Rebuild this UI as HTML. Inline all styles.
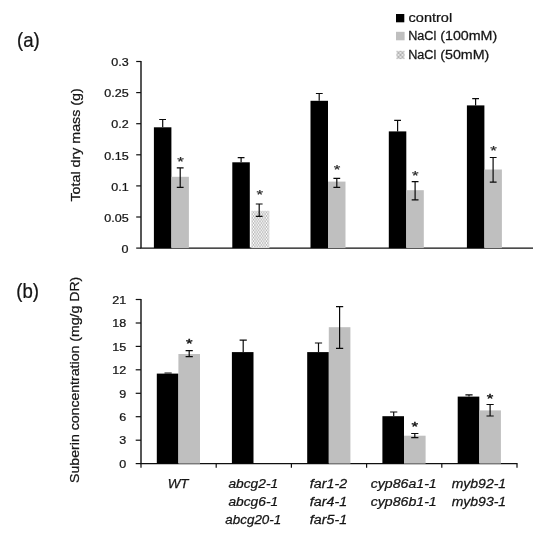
<!DOCTYPE html><html><head><meta charset="utf-8"><title>chart</title><style>html,body{margin:0;padding:0;background:#fff}svg{display:block}text{font-family:"Liberation Sans",sans-serif;fill:#151515;stroke:#151515;stroke-width:0.25px}</style></head><body>
<svg width="550" height="539" viewBox="0 0 550 539">
<defs><pattern id="chk" width="2.6" height="3.6" patternUnits="userSpaceOnUse"><rect width="2.6" height="3.6" fill="#a6a6a6"/><path d="M1.3 0.5L2.3 1.8L1.3 3.1L0.3 1.8ZM0 -1.3L1 0L0 1.3L-1 0ZM2.6 -1.3L3.6 0L2.6 1.3L1.6 0ZM0 2.3L1 3.6L0 4.9L-1 3.6ZM2.6 2.3L3.6 3.6L2.6 4.9L1.6 3.6Z" fill="#fff"/></pattern><pattern id="lg" x="396.5" y="50.8" width="4" height="4.15" patternUnits="userSpaceOnUse"><rect width="4" height="4.15" fill="#f4f4f4"/><path d="M0 0L4 4.15M4 0L0 4.15" stroke="#a8a8a8" stroke-width="1"/></pattern></defs>
<rect width="550" height="539" fill="#fff"/>
<path d="M141 60.9V248.1H533" stroke="#101010" stroke-width="1.4" fill="none"/>
<path d="M136.2 248.1H141" stroke="#101010" stroke-width="1.2"/>
<text transform="translate(128.60 252.80) scale(1.1 1)" font-size="11.4" text-anchor="end">0</text>
<path d="M136.2 217.0H141" stroke="#101010" stroke-width="1.2"/>
<text transform="translate(128.60 221.70) scale(1.1 1)" font-size="11.4" text-anchor="end">0.05</text>
<path d="M136.2 185.9H141" stroke="#101010" stroke-width="1.2"/>
<text transform="translate(128.60 190.60) scale(1.1 1)" font-size="11.4" text-anchor="end">0.1</text>
<path d="M136.2 154.8H141" stroke="#101010" stroke-width="1.2"/>
<text transform="translate(128.60 159.50) scale(1.1 1)" font-size="11.4" text-anchor="end">0.15</text>
<path d="M136.2 123.7H141" stroke="#101010" stroke-width="1.2"/>
<text transform="translate(128.60 128.40) scale(1.1 1)" font-size="11.4" text-anchor="end">0.2</text>
<path d="M136.2 92.6H141" stroke="#101010" stroke-width="1.2"/>
<text transform="translate(128.60 97.30) scale(1.1 1)" font-size="11.4" text-anchor="end">0.25</text>
<path d="M136.2 61.5H141" stroke="#101010" stroke-width="1.2"/>
<text transform="translate(128.60 66.20) scale(1.1 1)" font-size="11.4" text-anchor="end">0.3</text>
<rect x="153.9" y="127.3" width="17.5" height="120.8" fill="#000"/>
<rect x="171.4" y="176.8" width="17.5" height="71.3" fill="#bfbfbf"/>
<path d="M162.7 119.5V127.3M159.2 119.5h6.8" stroke="#0a0a0a" stroke-width="1.2" fill="none"/>
<path d="M180.2 167.9V187.4M176.8 167.9h6.8M176.8 187.4h6.8" stroke="#0a0a0a" stroke-width="1.2" fill="none"/>
<text transform="translate(180.45 165.50) scale(1.25 1)" font-size="13.5" text-anchor="middle" style="fill:#2a2a2a;stroke:#2a2a2a;stroke-width:0.2px">*</text>
<rect x="232.3" y="162.3" width="17.5" height="85.8" fill="#000"/>
<rect x="251.3" y="210.8" width="18.1" height="37.3" fill="url(#chk)"/>
<path d="M241.1 157.7V162.3M237.7 157.7h6.8" stroke="#0a0a0a" stroke-width="1.2" fill="none"/>
<path d="M259.2 204.0V216.4M255.8 204.0h6.8M255.8 216.4h6.8" stroke="#0a0a0a" stroke-width="1.2" fill="none"/>
<text transform="translate(259.75 199.20) scale(1.25 1)" font-size="13.5" text-anchor="middle" style="fill:#2a2a2a;stroke:#2a2a2a;stroke-width:0.2px">*</text>
<rect x="310.5" y="100.8" width="17.5" height="147.3" fill="#000"/>
<rect x="328.0" y="181.6" width="17.5" height="66.5" fill="#bfbfbf"/>
<path d="M319.2 93.5V100.8M315.9 93.5h6.8" stroke="#0a0a0a" stroke-width="1.2" fill="none"/>
<path d="M336.8 178.3V187.3M333.4 178.3h6.8M333.4 187.3h6.8" stroke="#0a0a0a" stroke-width="1.2" fill="none"/>
<text transform="translate(337.05 173.80) scale(1.25 1)" font-size="13.5" text-anchor="middle" style="fill:#2a2a2a;stroke:#2a2a2a;stroke-width:0.2px">*</text>
<rect x="388.8" y="131.4" width="17.5" height="116.7" fill="#000"/>
<rect x="406.3" y="190.2" width="17.5" height="57.9" fill="#bfbfbf"/>
<path d="M397.6 120.3V131.4M394.2 120.3h6.8" stroke="#0a0a0a" stroke-width="1.2" fill="none"/>
<path d="M415.1 181.7V199.8M411.7 181.7h6.8M411.7 199.8h6.8" stroke="#0a0a0a" stroke-width="1.2" fill="none"/>
<text transform="translate(415.35 179.50) scale(1.25 1)" font-size="13.5" text-anchor="middle" style="fill:#2a2a2a;stroke:#2a2a2a;stroke-width:0.2px">*</text>
<rect x="466.9" y="105.4" width="17.5" height="142.7" fill="#000"/>
<rect x="484.4" y="169.5" width="17.5" height="78.6" fill="#bfbfbf"/>
<path d="M475.6 98.7V105.4M472.2 98.7h6.8" stroke="#0a0a0a" stroke-width="1.2" fill="none"/>
<path d="M493.1 157.5V182.1M489.8 157.5h6.8M489.8 182.1h6.8" stroke="#0a0a0a" stroke-width="1.2" fill="none"/>
<text transform="translate(493.45 155.00) scale(1.25 1)" font-size="13.5" text-anchor="middle" style="fill:#2a2a2a;stroke:#2a2a2a;stroke-width:0.2px">*</text>
<text transform="translate(79.70 144.90) rotate(-90) scale(1.058 1)" font-size="13.5" text-anchor="middle">Total dry mass (g)</text>
<text transform="translate(17.00 46.50) scale(0.93 1)" font-size="20.0" text-anchor="start">(a)</text>
<rect x="396" y="14" width="8.3" height="8.3" fill="#000"/>
<rect x="396" y="31.8" width="8.6" height="8.5" fill="#bfbfbf"/>
<rect x="396.5" y="50.8" width="8" height="8.3" fill="url(#lg)"/>
<text transform="translate(408.60 21.90) scale(1.18 1)" font-size="12.3" text-anchor="start">control</text>
<text transform="translate(408.20 40.00) scale(1.03 1)" font-size="12.3" text-anchor="start">NaCl</text>
<text transform="translate(440.20 40.00) scale(1.16 1)" font-size="12.3" text-anchor="start">(100mM)</text>
<text transform="translate(408.20 58.50) scale(1.03 1)" font-size="12.3" text-anchor="start">NaCl</text>
<text transform="translate(440.20 58.50) scale(1.16 1)" font-size="12.3" text-anchor="start">(50mM)</text>
<path d="M141 298.9V463.6H517.5" stroke="#101010" stroke-width="1.4" fill="none"/>
<path d="M135.7 463.6H141" stroke="#101010" stroke-width="1.2"/>
<text transform="translate(126.30 467.90) scale(1.1 1)" font-size="11.4" text-anchor="end">0</text>
<path d="M135.7 440.2H141" stroke="#101010" stroke-width="1.2"/>
<text transform="translate(126.30 444.46) scale(1.1 1)" font-size="11.4" text-anchor="end">3</text>
<path d="M135.7 416.7H141" stroke="#101010" stroke-width="1.2"/>
<text transform="translate(126.30 421.02) scale(1.1 1)" font-size="11.4" text-anchor="end">6</text>
<path d="M135.7 393.3H141" stroke="#101010" stroke-width="1.2"/>
<text transform="translate(126.30 397.58) scale(1.1 1)" font-size="11.4" text-anchor="end">9</text>
<path d="M135.7 369.8H141" stroke="#101010" stroke-width="1.2"/>
<text transform="translate(126.30 374.14) scale(1.1 1)" font-size="11.4" text-anchor="end">12</text>
<path d="M135.7 346.4H141" stroke="#101010" stroke-width="1.2"/>
<text transform="translate(126.30 350.70) scale(1.1 1)" font-size="11.4" text-anchor="end">15</text>
<path d="M135.7 323.0H141" stroke="#101010" stroke-width="1.2"/>
<text transform="translate(126.30 327.26) scale(1.1 1)" font-size="11.4" text-anchor="end">18</text>
<path d="M135.7 299.5H141" stroke="#101010" stroke-width="1.2"/>
<text transform="translate(126.30 303.82) scale(1.1 1)" font-size="11.4" text-anchor="end">21</text>
<path d="M141.0 463.6v4.2" stroke="#101010" stroke-width="1.2"/>
<path d="M216.2 463.6v4.2" stroke="#101010" stroke-width="1.2"/>
<path d="M291.4 463.6v4.2" stroke="#101010" stroke-width="1.2"/>
<path d="M366.6 463.6v4.2" stroke="#101010" stroke-width="1.2"/>
<path d="M441.8 463.6v4.2" stroke="#101010" stroke-width="1.2"/>
<path d="M517.0 463.6v4.2" stroke="#101010" stroke-width="1.2"/>
<rect x="156.8" y="373.6" width="21.6" height="90.0" fill="#000"/>
<path d="M168.1 373.0V373.6M164.5 373.0h7.2" stroke="#0a0a0a" stroke-width="1.2" fill="none"/>
<rect x="178.4" y="354.0" width="21.6" height="109.6" fill="#bfbfbf"/>
<path d="M189.2 350.7V356.6M185.6 350.7h7.2M185.6 356.6h7.2" stroke="#0a0a0a" stroke-width="1.2" fill="none"/>
<text transform="translate(189.20 347.80) scale(1.25 1)" font-size="13.5" text-anchor="middle" style="fill:#111;stroke:#111;stroke-width:0.4px">*</text>
<rect x="231.9" y="352.1" width="21.6" height="111.5" fill="#000"/>
<path d="M243.2 340.2V352.1M239.6 340.2h7.2" stroke="#0a0a0a" stroke-width="1.2" fill="none"/>
<rect x="307.2" y="352.1" width="21.6" height="111.5" fill="#000"/>
<path d="M318.5 343.0V352.1M314.9 343.0h7.2" stroke="#0a0a0a" stroke-width="1.2" fill="none"/>
<rect x="328.8" y="327.2" width="21.6" height="136.4" fill="#bfbfbf"/>
<path d="M339.6 306.7V348.4M336.0 306.7h7.2M336.0 348.4h7.2" stroke="#0a0a0a" stroke-width="1.2" fill="none"/>
<rect x="382.4" y="416.2" width="21.6" height="47.4" fill="#000"/>
<path d="M393.7 412.0V416.2M390.1 412.0h7.2" stroke="#0a0a0a" stroke-width="1.2" fill="none"/>
<rect x="404.0" y="435.7" width="21.6" height="27.9" fill="#bfbfbf"/>
<path d="M414.8 433.5V437.6M411.2 433.5h7.2M411.2 437.6h7.2" stroke="#0a0a0a" stroke-width="1.2" fill="none"/>
<text transform="translate(414.80 430.80) scale(1.25 1)" font-size="13.5" text-anchor="middle" style="fill:#111;stroke:#111;stroke-width:0.4px">*</text>
<rect x="457.7" y="396.6" width="21.6" height="67.0" fill="#000"/>
<path d="M469.0 394.8V396.6M465.4 394.8h7.2" stroke="#0a0a0a" stroke-width="1.2" fill="none"/>
<rect x="479.3" y="410.4" width="21.6" height="53.2" fill="#bfbfbf"/>
<path d="M490.1 404.5V416.0M486.5 404.5h7.2M486.5 416.0h7.2" stroke="#0a0a0a" stroke-width="1.2" fill="none"/>
<text transform="translate(490.10 403.40) scale(1.25 1)" font-size="13.5" text-anchor="middle" style="fill:#111;stroke:#111;stroke-width:0.4px">*</text>
<text transform="translate(79.00 379.80) rotate(-90) scale(1.046 1)" font-size="13.5" text-anchor="middle">Suberin concentration (mg/g DR)</text>
<text transform="translate(16.20 297.60) scale(0.93 1)" font-size="20.0" text-anchor="start">(b)</text>
<text transform="translate(178.10 487.80) scale(1.09 1)" font-size="12.3" text-anchor="middle" font-style="italic">WT</text>
<text transform="translate(253.30 487.80) scale(1.12 1)" font-size="12.3" text-anchor="middle" font-style="italic">abcg2-1</text>
<text transform="translate(253.30 505.90) scale(1.12 1)" font-size="12.3" text-anchor="middle" font-style="italic">abcg6-1</text>
<text transform="translate(253.30 524.00) scale(1.09 1)" font-size="12.3" text-anchor="middle" font-style="italic">abcg20-1</text>
<text transform="translate(328.50 487.80) scale(1.16 1)" font-size="12.3" text-anchor="middle" font-style="italic">far1-2</text>
<text transform="translate(328.50 505.90) scale(1.16 1)" font-size="12.3" text-anchor="middle" font-style="italic">far4-1</text>
<text transform="translate(328.50 524.00) scale(1.16 1)" font-size="12.3" text-anchor="middle" font-style="italic">far5-1</text>
<text transform="translate(403.70 487.80) scale(1.15 1)" font-size="12.3" text-anchor="middle" font-style="italic">cyp86a1-1</text>
<text transform="translate(403.70 505.90) scale(1.15 1)" font-size="12.3" text-anchor="middle" font-style="italic">cyp86b1-1</text>
<text transform="translate(478.90 487.80) scale(1.14 1)" font-size="12.3" text-anchor="middle" font-style="italic">myb92-1</text>
<text transform="translate(478.90 505.90) scale(1.14 1)" font-size="12.3" text-anchor="middle" font-style="italic">myb93-1</text>
</svg></body></html>
